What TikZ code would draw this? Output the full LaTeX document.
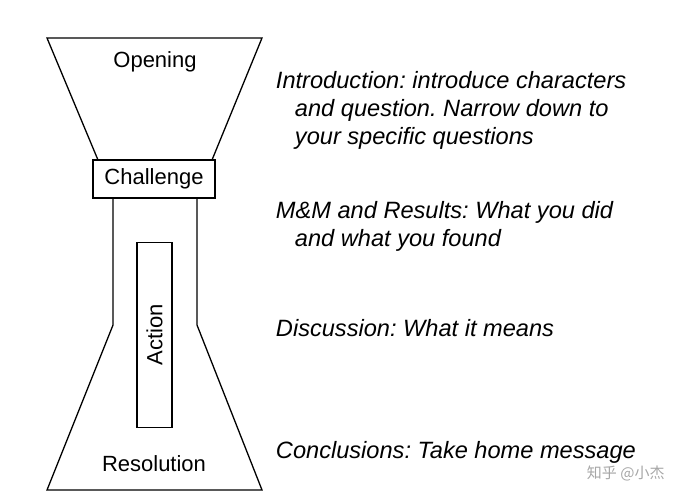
\documentclass[tikz,border=0pt]{standalone}
\usepackage{fontspec}
\setmainfont{Liberation Sans}
\newfontfamily\cjk{Noto Sans CJK SC}
\frenchspacing
\begin{document}
\begin{tikzpicture}[x=1pt,y=-1pt,line width=1.3pt,
  lab/.style={font=\fontsize{22}{26}\selectfont},
  note/.style={font=\fontsize{23.6}{27}\selectfont\itshape,anchor=west}]
\useasboundingbox (0,0) rectangle (675,502);
\draw (47,38) -- (262,38) -- (212,160) -- (98,160) -- cycle;
\draw (113,198) -- (113,325) -- (47,490) -- (262,490) -- (197,325) -- (197,198);
\node[draw,fill=white,minimum width=122,minimum height=38,lab] (ch) at (154,179) {Challenge};
\node[draw,minimum width=35,minimum height=185,inner sep=0] (act) at (154.5,335) {};
\node[lab,rotate=90] (acttxt) at (act) {Action};
\node[lab] (op) at (155,62) {Opening};
\node[lab] (res) at (154,464) {Resolution};
\node[note] (n1) at (272,80) {Introduction: introduce characters};
\node[note] (n2) at (291,110) {and question. Narrow down to};
\node[note] (n3) at (291,138) {your specific questions};
\node[note] (n4) at (272,212) {M\&M and Results: What you did};
\node[note] (n5) at (291,240) {and what you found};
\node[note] (n6) at (272,328) {Discussion: What it means};
\node[note] (n7) at (272,452) {Conclusions: Take home message};
\node[font=\cjk\fontsize{15}{18}\selectfont,text=gray!70,anchor=west] (wm) at (583,473) {知乎 @小杰};
\end{tikzpicture}
\end{document}
